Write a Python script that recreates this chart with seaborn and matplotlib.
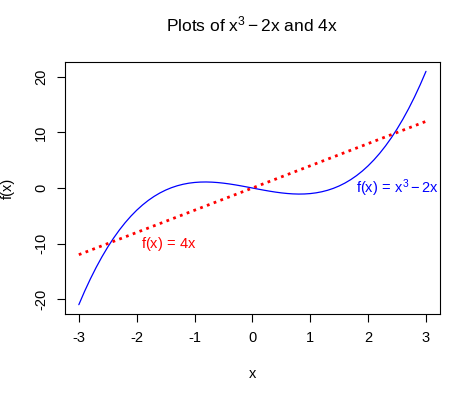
import matplotlib
matplotlib.use("Agg")
import matplotlib.pyplot as plt
import seaborn as sns
import pandas as pd

# data (x^3 - 2x curve and 4x line)
x_vals = [-3.0, -2.9, -2.8, -2.7, -2.6, -2.5, -2.4, -2.3, -2.2, -2.1, -2.0,
          -1.9, -1.8, -1.7, -1.6, -1.5, -1.4, -1.3, -1.2, -1.1, -1.0,
          -0.9, -0.8, -0.7, -0.6, -0.5, -0.4, -0.3, -0.2, -0.1, 0.0,
          0.1, 0.2, 0.3, 0.4, 0.5, 0.6, 0.7, 0.8, 0.9, 1.0,
          1.1, 1.2, 1.3, 1.4, 1.5, 1.6, 1.7, 1.8, 1.9, 2.0,
          2.1, 2.2, 2.3, 2.4, 2.5, 2.6, 2.7, 2.8, 2.9, 3.0]
cubic_vals = [-21.0, -18.589, -16.352, -14.283, -12.376, -10.625, -9.024, -7.567, -6.248, -5.061, -4.0,
              -3.059, -2.232, -1.513, -0.896, -0.375, 0.056, 0.403, 0.672, 0.869, 1.0,
              1.071, 1.088, 1.057, 0.984, 0.875, 0.736, 0.573, 0.392, 0.199, 0.0,
              -0.199, -0.392, -0.573, -0.736, -0.875, -0.984, -1.057, -1.088, -1.071, -1.0,
              -0.869, -0.672, -0.403, -0.056, 0.375, 0.896, 1.513, 2.232, 3.059, 4.0,
              5.061, 6.248, 7.567, 9.024, 10.625, 12.376, 14.283, 16.352, 18.589, 21.0]
line_x = [-3.0, 3.0]
line_y = [-12.0, 12.0]
x_ticks = [-3, -2, -1, 0, 1, 2, 3]
y_ticks = [-20, -10, 0, 10, 20]

sns.set_style("white")
plt.rcParams['font.family'] = ['Liberation Sans', 'DejaVu Sans']
plt.rcParams['mathtext.fontset'] = 'custom'
plt.rcParams['mathtext.rm'] = 'Liberation Sans'
plt.rcParams['mathtext.it'] = 'Liberation Sans'
plt.rcParams['text.color'] = 'black'
plt.rcParams['axes.labelcolor'] = 'black'
plt.rcParams['xtick.color'] = 'black'
plt.rcParams['ytick.color'] = 'black'

df_c = pd.DataFrame({"x": x_vals, "y": cubic_vals})
df_l = pd.DataFrame({"x": line_x, "y": line_y})

fig = plt.figure(figsize=(4.74, 3.95), dpi=100)
ax = fig.add_axes([0.137, 0.205, 0.791, 0.638])

sns.lineplot(data=df_c, x="x", y="y", ax=ax, color="#0000ff", linewidth=0.9, sort=False)
sns.lineplot(data=df_l, x="x", y="y", ax=ax, color="#ff0000", linewidth=2.0, sort=False)
ax.lines[-1].set_linestyle((0, (1, 1.6)))

ax.set_xlim(-3.24, 3.24)
ax.set_ylim(-22.68, 22.68)
ax.set_xticks(x_ticks)
ax.set_yticks(y_ticks)
ax.set_xticklabels([str(t) for t in x_ticks], fontsize=10.5, color="black")
ax.set_yticklabels([str(t) for t in y_ticks], fontsize=10.5, rotation=90, va="center", color="black")
ax.tick_params(axis="both", direction="out", length=6, width=0.8, color="black",
               labelcolor="black", left=True, bottom=True, pad=6)
for s in ax.spines.values():
    s.set_color("black")
    s.set_linewidth(0.8)

ax.set_xlabel("x", fontsize=10.5, labelpad=16, color="black")
ax.set_ylabel("f(x)", fontsize=10.5, labelpad=14, color="black")
ax.set_title(r"Plots of $\mathrm{x^3 - 2x}$ and 4x", fontsize=12.5, pad=22, color="black")

ax.text(2.5, 0.0, r"$\mathrm{f(x)\,=\,x^3 - 2x}$", color="#0000ff", fontsize=10.5,
        ha="center", va="center")
ax.text(-1.45, -10.0, r"$\mathrm{f(x)\,=\,4x}$", color="#ff0000", fontsize=10.5,
        ha="center", va="center")

fig.savefig("out.png", dpi=100)
